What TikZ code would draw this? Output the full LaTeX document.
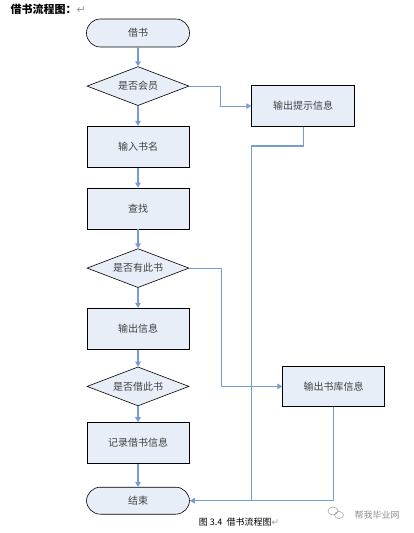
\documentclass[tikz,border=0pt]{standalone}
\usepackage{fontspec}
\setmainfont{Noto Sans CJK SC}
\newfontfamily\symfont{DejaVu Sans}
\usetikzlibrary{positioning,arrows.meta,shapes.geometric}
\definecolor{boxfill}{RGB}{232,238,248}
\definecolor{flowblue}{RGB}{118,156,212}

\begin{document}
\begin{tikzpicture}[
  node distance=20pt and 62pt,
  terminal/.style={rectangle, rounded corners=13.9pt, draw=black, fill=boxfill, text=black!75, minimum width=103pt, minimum height=28pt, font=\fontsize{10}{12}\selectfont, line width=0.6pt},
  decision/.style={diamond, aspect=2.6, draw=black, fill=boxfill, text=black!75, minimum width=102pt, minimum height=39pt, inner sep=0pt, font=\fontsize{10}{12}\selectfont, line width=0.6pt},
  process/.style={rectangle, draw=black, fill=boxfill, text=black!75, minimum width=102pt, minimum height=41pt, font=\fontsize{10}{12}\selectfont, line width=0.7pt},
  flow/.style={-{Triangle[length=5pt,width=5.5pt]}, draw=flowblue, line width=1.2pt},
  line/.style={draw=flowblue, line width=1.2pt},
]
  \useasboundingbox (0,0) rectangle (414pt,-533pt);

  % Title
  \node[anchor=west, font=\fontsize{11}{13}\selectfont\bfseries] (title) at (7pt,-9pt) {借书流程图：{\symfont\mdseries\color{black!40}↵}};

  % Main column
  \node[terminal] (start) at (138pt,-33pt) {借书};
  \node[decision, below=19pt of start] (member) {是否会员};
  \node[process, below=20pt of member] (name) {输入书名};
  \node[process, below=20pt of name] (search) {查找};
  \node[decision, below=19pt of search] (have) {是否有此书};
  \node[process, below=20pt of have] (info) {输出信息};
  \node[decision, below=17pt of info] (borrow) {是否借此书};
  \node[process, below=16pt of borrow] (record) {记录借书信息};
  \node[terminal, minimum height=27pt, below=23pt of record] (end) {结束};

  % Side boxes
  \node[process, right=62pt of member, yshift=-20pt, minimum width=103pt] (tip) {输出提示信息};
  \node[process, right=93pt of borrow, minimum height=40pt] (lib) {输出书库信息};

  % Arrows
  \draw[flow] (start) -- (member);
  \draw[flow] (member) -- (name);
  \draw[flow] (name) -- (search);
  \draw[flow] (search) -- (have);
  \draw[flow] (have) -- (info);
  \draw[flow] (info) -- (borrow);
  \draw[flow] (borrow) -- (record);
  \draw[flow] (record) -- (end);
  \draw[flow] (member.east) -- ++(31pt,0) |- (tip.west);
  \draw[flow] (have.east) -- ++(32pt,0) |- (lib.west);
  \draw[line] (lib.south) |- (end.east);
  \draw[flow] (tip.south) -- ++(0,-19pt) -| (tip.west |- end.east) -- (end.east);

  % Caption and mark
  \node[font=\fontsize{9}{11}\selectfont] (caption) at (239pt,-522pt) {图 3.4\ \ 借书流程图{\symfont\color{black!40}↵}};
  \draw[black!40, line width=0.5pt] (333pt,-511pt) ellipse (5pt and 4pt) (339pt,-515pt) ellipse (4.5pt and 3.5pt);
  \node[font=\fontsize{9}{11}\selectfont, text=black!45] (mark) at (377pt,-515pt) {帮我毕业网};
\end{tikzpicture}
\end{document}
